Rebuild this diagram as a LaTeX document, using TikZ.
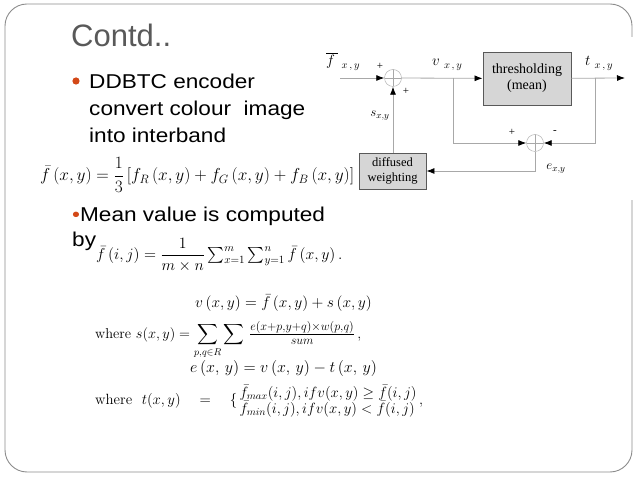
\RequirePackage{fix-cm}
\documentclass[tikz,border=0pt]{standalone}
\usepackage{amsmath,amssymb}
\usepackage{fontspec}
\usetikzlibrary{calc,arrows.meta}
\newfontfamily\slidefont[FakeStretch=1.13]{Liberation Sans}
\newfontfamily\titlefont{Liberation Sans}
\newfontfamily\figfont{Liberation Serif}
\definecolor{titlegray}{HTML}{595959}
\definecolor{bulletred}{HTML}{D34817}
\definecolor{framegray}{HTML}{8C8C8C}
\definecolor{wiregray}{HTML}{A8A8A8}
\definecolor{boxfill}{HTML}{D6D6D6}
\tikzset{
	blk/.style={draw=black!65,fill=boxfill,line width=0.9pt,align=center,inner sep=0pt},
	sumnode/.style={circle,draw=wiregray,minimum size=17pt,inner sep=0pt,
		path picture={\draw[wiregray] (path picture bounding box.north) -- (path picture bounding box.south)
			(path picture bounding box.west) -- (path picture bounding box.east);}},
	wire/.style={draw=wiregray,line width=0.8pt},
	arr/.style={wire,-{Latex[color=black,length=8pt,width=6pt]}},
	slide/.style={anchor=base west,inner sep=0pt,font=\slidefont\fontsize{20}{24}\selectfont},
	eq/.style={anchor=west,inner sep=0pt,font=\fontsize{15.8}{18}\selectfont},
	lbl/.style={inner sep=0pt},
}
\begin{document}
\begin{tikzpicture}[x=1pt,y=-1pt]
				\useasboundingbox (0,0) rectangle (638,478);
				\draw[framegray,line width=0.9pt,rounded corners=22pt] (5,4) rectangle (632,472);
				
				\node[anchor=base west,inner sep=0pt,text=titlegray,font=\titlefont\fontsize{31}{36}\selectfont] (title) at (71,47) {Contd..};
				
				\fill[bulletred] (76,81) circle (3.6);
				\node[slide] (l1) at (89,89) {DDBTC encoder};
				\node[slide] (l2) at (89,116) {convert colour\ \ image};
				\node[slide] (l3) at (89,143) {into interband};
				
				\fill[white] (306,37) rectangle (638,200);
				
				\node[eq,font=\fontsize{17.3}{20}\selectfont] (eqmean) at (40,175) {%
					$\bar{f}\,(x,y)=\dfrac{1}{3}\,[f_R\,(x,y)+f_G\,(x,y)+f_B\,(x,y)]$};
				
				\node[slide] (l4) at (72,222) {{\color{bulletred}\textbullet}Mean value is computed};
				\node[slide] (l5) at (72,247) {by};
				
				\node[eq] (eqblock) at (96,255) {%
					$\bar{f}\,(i,j)=\dfrac{1}{m\times n}\sum\nolimits_{x=1}^{m}\sum\nolimits_{y=1}^{n}\bar{f}\,(x,y)\,.$};
				\node[eq,font=\fontsize{15.5}{18}\selectfont] (eqv) at (195,303) {%
					$v\,(x,y)=\bar{f}\,(x,y)+s\,(x,y)$};
				\node[eq,font=\fontsize{14.4}{17}\selectfont] (eqs) at (95,340) {%
					$\text{where }s(x,y)=\displaystyle\sum_{p,q\in R}\sum\,\text{\fontsize{17.3}{20}\selectfont$\tfrac{e(x+p,y+q)\times w(p,q)}{sum}$}\,,$};
				\node[eq,font=\fontsize{16}{18}\selectfont] (eqe) at (190,369) {%
					$e\,(x,\,y)=v\,(x,\,y)-t\,(x,\,y)$};
				\node[eq,font=\fontsize{14.8}{17}\selectfont] (eqt) at (95,401) {%
					$\text{where}\ \ t(x,y)\quad=\quad\{\,\renewcommand{\arraystretch}{0.7}\begin{array}{@{}l@{}}
						\bar{f}_{max}(i,j),if v(x,y)\geq\bar{f}(i,j)\\
						\bar{f}_{min}(i,j),if v(x,y)<\bar{f}(i,j)
					\end{array}\,,$};
				
				\coordinate (in) at (340,78);
				\coordinate (out) at (625,78);
				\node[sumnode] (sum1) at (393,78) {};
				\node[blk,minimum width=88pt,minimum height=53pt,font=\figfont\fontsize{14}{16}\selectfont] (thresh) at (527,78.5) {thresholding\\(mean)};
				\node[sumnode] (sum2) at (535,143) {};
				\node[blk,minimum width=67pt,minimum height=36pt,font=\figfont\fontsize{12.5}{15}\selectfont] (diffw) at (392.5,171) {diffused\\weighting};
				\coordinate (vtap) at (453,78);
				\coordinate (ttap) at (595,78);
				
				\draw[arr] (in) -- (sum1);
				\draw[arr] (sum1) -- (thresh);
				\draw[arr] (thresh) -- (out);
				\draw[arr] (vtap) |- (sum2);
				\draw[arr] (ttap) |- (sum2);
				\draw[arr] (sum2) |- (diffw);
				\draw[arr] (diffw.north -| sum1) -- (sum1);
				
				\node[lbl,anchor=base west] (fbar) at (326,66) {\fontsize{15}{16}\selectfont$\overline{f\,}\;{}_{x\,,\,y}$};
				\node[lbl,anchor=base west] (vlab) at (432,66) {\fontsize{15}{16}\selectfont$v\;{}_{x\,,\,y}$};
				\node[lbl,anchor=base west] (tlab) at (585,66) {\fontsize{15}{16}\selectfont$t\;{}_{x\,,\,y}$};
				\node[lbl] (slab) at (380,116) {\fontsize{13}{14}\selectfont$s_{x,y}$};
				\node[lbl] (elab) at (556,169) {\fontsize{13}{14}\selectfont$e_{x,y}$};
				\foreach \px/\py/\sg in {380/66/+,406/91/+,512/132/+,555/132/-}{
					\node[lbl,font=\figfont\fontsize{11}{12}\selectfont] at (\px,\py) {\sg};}
			\end{tikzpicture}
\end{document}
